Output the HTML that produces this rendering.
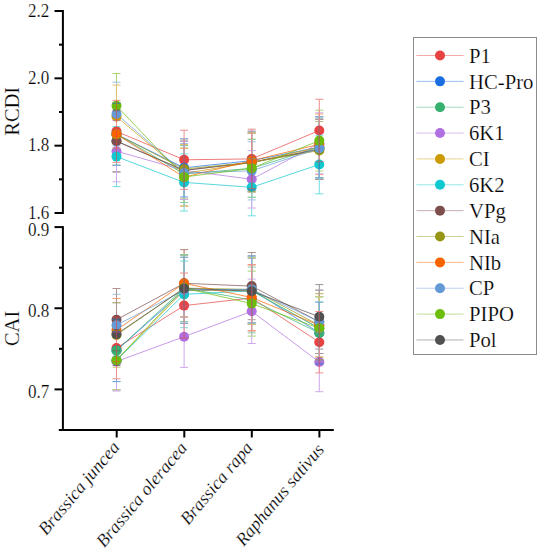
<!DOCTYPE html><html><head><meta charset="utf-8"><style>html,body{margin:0;padding:0;background:#fff;width:542px;height:550px;overflow:hidden}svg{display:block}text{font-family:"Liberation Serif",serif;fill:#000;stroke:#fff;stroke-width:0.2px}</style></head><body>
<svg width="542" height="550" viewBox="0 0 542 550">
<rect width="542" height="550" fill="#fff"/>
<g stroke="#000" stroke-width="2" fill="none">
<line x1="62.9" y1="10" x2="62.9" y2="214.00200000000004"/>
<line x1="54.5" y1="11.00" x2="62.9" y2="11.00"/>
<line x1="54.5" y1="78.33" x2="62.9" y2="78.33"/>
<line x1="54.5" y1="145.67" x2="62.9" y2="145.67"/>
<line x1="54.5" y1="213.00" x2="62.9" y2="213.00"/>
<line x1="59" y1="44.67" x2="62.9" y2="44.67"/>
<line x1="59" y1="112.00" x2="62.9" y2="112.00"/>
<line x1="59" y1="179.34" x2="62.9" y2="179.34"/>
<line x1="62.9" y1="226.1" x2="62.9" y2="429.975"/>
<line x1="54.5" y1="227.10" x2="62.9" y2="227.10"/>
<line x1="54.5" y1="308.25" x2="62.9" y2="308.25"/>
<line x1="54.5" y1="389.40" x2="62.9" y2="389.40"/>
<line x1="59" y1="267.68" x2="62.9" y2="267.68"/>
<line x1="59" y1="348.83" x2="62.9" y2="348.83"/>
<line x1="58.8" y1="429.98" x2="333.8" y2="429.98"/>
<line x1="116.7" y1="429.98" x2="116.7" y2="437.5"/>
<line x1="184.3" y1="429.98" x2="184.3" y2="437.5"/>
<line x1="251.8" y1="429.98" x2="251.8" y2="437.5"/>
<line x1="319.4" y1="429.98" x2="319.4" y2="437.5"/>
</g>
<g font-size="18" text-anchor="end">
<text transform="translate(49.3,16.50) scale(0.95,1)">2.2</text>
<text transform="translate(49.3,83.83) scale(0.95,1)">2.0</text>
<text transform="translate(49.3,151.17) scale(0.95,1)">1.8</text>
<text transform="translate(49.3,218.50) scale(0.95,1)">1.6</text>
<text transform="translate(49.3,235.60) scale(0.95,1)">0.9</text>
<text transform="translate(49.3,316.75) scale(0.95,1)">0.8</text>
<text transform="translate(49.3,397.90) scale(0.95,1)">0.7</text>
</g>
<text font-size="20.5" text-anchor="middle" transform="translate(19,111.3) rotate(-90)">RCDI</text>
<text font-size="20.5" text-anchor="middle" transform="translate(19,328.4) rotate(-90)">CAI</text>
<g font-size="18" font-style="italic" text-anchor="end">
<text transform="translate(120.5,447.5) rotate(-50)">Brassica juncea</text>
<text transform="translate(188,448.3) rotate(-50)">Brassica oleracea</text>
<text transform="translate(253.5,448) rotate(-50)">Brassica rapa</text>
<text transform="translate(325,450) rotate(-50)">Raphanus sativus</text>
</g>
<polyline points="116.5,141.0 184.1,170.4 251.7,162.4 319.3,149" fill="none" stroke="#505050" stroke-width="1" stroke-opacity="0.7"/>
<polyline points="116.5,131.4 184.1,159.8 251.7,158.9 319.3,130.5" fill="none" stroke="#E84343" stroke-width="1" stroke-opacity="0.7"/>
<polyline points="116.5,134.3 184.1,167.8 251.7,160.6 319.3,147.2" fill="none" stroke="#1A6EE0" stroke-width="1" stroke-opacity="0.7"/>
<polyline points="116.5,134.3 184.1,174 251.7,168.3 319.3,147.2" fill="none" stroke="#35B06E" stroke-width="1" stroke-opacity="0.7"/>
<polyline points="116.5,151.2 184.1,170.4 251.7,179.3 319.3,143.3" fill="none" stroke="#B070E0" stroke-width="1" stroke-opacity="0.7"/>
<polyline points="116.5,116.6 184.1,173.5 251.7,162.4 319.3,147.2" fill="none" stroke="#CC9A05" stroke-width="1" stroke-opacity="0.7"/>
<polyline points="116.5,156.6 184.1,182.4 251.7,187.3 319.3,164.5" fill="none" stroke="#10C8CF" stroke-width="1" stroke-opacity="0.7"/>
<polyline points="116.5,141.3 184.1,170.4 251.7,162.4 319.3,149.5" fill="none" stroke="#7D4E4E" stroke-width="1" stroke-opacity="0.7"/>
<polyline points="116.5,134.3 184.1,169 251.7,162.4 319.3,150.5" fill="none" stroke="#959615" stroke-width="1" stroke-opacity="0.7"/>
<polyline points="116.5,134.3 184.1,177.2 251.7,160.6 319.3,144.3" fill="none" stroke="#FA6400" stroke-width="1" stroke-opacity="0.7"/>
<polyline points="116.5,114.0 184.1,173 251.7,170.8 319.3,148.3" fill="none" stroke="#6399D5" stroke-width="1" stroke-opacity="0.7"/>
<polyline points="116.5,105.8 184.1,177 251.7,168.3 319.3,140.6" fill="none" stroke="#6CBC0C" stroke-width="1" stroke-opacity="0.7"/>
<circle cx="116.5" cy="141.0" r="5" fill="#505050"/>
<circle cx="184.1" cy="170.4" r="5" fill="#505050"/>
<circle cx="251.7" cy="162.4" r="5" fill="#505050"/>
<circle cx="319.3" cy="149" r="5" fill="#505050"/>
<circle cx="116.5" cy="131.4" r="5" fill="#E84343"/>
<circle cx="184.1" cy="159.8" r="5" fill="#E84343"/>
<circle cx="251.7" cy="158.9" r="5" fill="#E84343"/>
<circle cx="319.3" cy="130.5" r="5" fill="#E84343"/>
<circle cx="116.5" cy="134.3" r="5" fill="#1A6EE0"/>
<circle cx="184.1" cy="167.8" r="5" fill="#1A6EE0"/>
<circle cx="251.7" cy="160.6" r="5" fill="#1A6EE0"/>
<circle cx="319.3" cy="147.2" r="5" fill="#1A6EE0"/>
<circle cx="116.5" cy="134.3" r="5" fill="#35B06E"/>
<circle cx="184.1" cy="174" r="5" fill="#35B06E"/>
<circle cx="251.7" cy="168.3" r="5" fill="#35B06E"/>
<circle cx="319.3" cy="147.2" r="5" fill="#35B06E"/>
<circle cx="116.5" cy="151.2" r="5" fill="#B070E0"/>
<circle cx="184.1" cy="170.4" r="5" fill="#B070E0"/>
<circle cx="251.7" cy="179.3" r="5" fill="#B070E0"/>
<circle cx="319.3" cy="143.3" r="5" fill="#B070E0"/>
<circle cx="116.5" cy="116.6" r="5" fill="#CC9A05"/>
<circle cx="184.1" cy="173.5" r="5" fill="#CC9A05"/>
<circle cx="251.7" cy="162.4" r="5" fill="#CC9A05"/>
<circle cx="319.3" cy="147.2" r="5" fill="#CC9A05"/>
<circle cx="116.5" cy="156.6" r="5" fill="#10C8CF"/>
<circle cx="184.1" cy="182.4" r="5" fill="#10C8CF"/>
<circle cx="251.7" cy="187.3" r="5" fill="#10C8CF"/>
<circle cx="319.3" cy="164.5" r="5" fill="#10C8CF"/>
<circle cx="116.5" cy="141.3" r="5" fill="#7D4E4E"/>
<circle cx="184.1" cy="170.4" r="5" fill="#7D4E4E"/>
<circle cx="251.7" cy="162.4" r="5" fill="#7D4E4E"/>
<circle cx="319.3" cy="149.5" r="5" fill="#7D4E4E"/>
<circle cx="116.5" cy="134.3" r="5" fill="#959615"/>
<circle cx="184.1" cy="169" r="5" fill="#959615"/>
<circle cx="251.7" cy="162.4" r="5" fill="#959615"/>
<circle cx="319.3" cy="150.5" r="5" fill="#959615"/>
<circle cx="116.5" cy="134.3" r="5" fill="#FA6400"/>
<circle cx="184.1" cy="177.2" r="5" fill="#FA6400"/>
<circle cx="251.7" cy="160.6" r="5" fill="#FA6400"/>
<circle cx="319.3" cy="144.3" r="5" fill="#FA6400"/>
<circle cx="116.5" cy="114.0" r="5" fill="#6399D5"/>
<circle cx="184.1" cy="173" r="5" fill="#6399D5"/>
<circle cx="251.7" cy="170.8" r="5" fill="#6399D5"/>
<circle cx="319.3" cy="148.3" r="5" fill="#6399D5"/>
<circle cx="116.5" cy="105.8" r="5" fill="#6CBC0C"/>
<circle cx="184.1" cy="177" r="5" fill="#6CBC0C"/>
<circle cx="251.7" cy="168.3" r="5" fill="#6CBC0C"/>
<circle cx="319.3" cy="140.6" r="5" fill="#6CBC0C"/>
<g opacity="0.6" fill="none">
<path d="M116.5 110.0V172.0M112.5 110.0H120.5M112.5 172.0H120.5" stroke="#505050" stroke-width="1"/>
<path d="M184.1 141.3V199.5M180.1 141.3H188.1M180.1 199.5H188.1" stroke="#505050" stroke-width="1"/>
<path d="M251.7 133.0V191.8M247.7 133.0H255.7M247.7 191.8H255.7" stroke="#505050" stroke-width="1"/>
<path d="M319.3 119V179M315.3 119H323.3M315.3 179H323.3" stroke="#505050" stroke-width="1"/>
<path d="M116.5 73.5V138.1M112.5 73.5H120.5M112.5 138.1H120.5" stroke="#6CBC0C" stroke-width="1"/>
<path d="M184.1 148V206M180.1 148H188.1M180.1 206H188.1" stroke="#6CBC0C" stroke-width="1"/>
<path d="M251.7 139.3V197.3M247.7 139.3H255.7M247.7 197.3H255.7" stroke="#6CBC0C" stroke-width="1"/>
<path d="M319.3 110.2V171.0M315.3 110.2H323.3M315.3 171.0H323.3" stroke="#6CBC0C" stroke-width="1"/>
<path d="M116.5 82.2V145.8M112.5 82.2H120.5M112.5 145.8H120.5" stroke="#6399D5" stroke-width="1"/>
<path d="M184.1 143.5V202.5M180.1 143.5H188.1M180.1 202.5H188.1" stroke="#6399D5" stroke-width="1"/>
<path d="M251.7 141.7V199.9M247.7 141.7H255.7M247.7 199.9H255.7" stroke="#6399D5" stroke-width="1"/>
<path d="M319.3 118.0V178.6M315.3 118.0H323.3M315.3 178.6H323.3" stroke="#6399D5" stroke-width="1"/>
<path d="M116.5 103.3V165.3M112.5 103.3H120.5M112.5 165.3H120.5" stroke="#FA6400" stroke-width="1"/>
<path d="M184.1 148.3V206.1M180.1 148.3H188.1M180.1 206.1H188.1" stroke="#FA6400" stroke-width="1"/>
<path d="M251.7 131.2V190.0M247.7 131.2H255.7M247.7 190.0H255.7" stroke="#FA6400" stroke-width="1"/>
<path d="M319.3 114.0V174.6M315.3 114.0H323.3M315.3 174.6H323.3" stroke="#FA6400" stroke-width="1"/>
<path d="M116.5 103.3V165.3M112.5 103.3H120.5M112.5 165.3H120.5" stroke="#959615" stroke-width="1"/>
<path d="M184.1 139.9V198.1M180.1 139.9H188.1M180.1 198.1H188.1" stroke="#959615" stroke-width="1"/>
<path d="M251.7 133.0V191.8M247.7 133.0H255.7M247.7 191.8H255.7" stroke="#959615" stroke-width="1"/>
<path d="M319.3 121.5V179.5M315.3 121.5H323.3M315.3 179.5H323.3" stroke="#959615" stroke-width="1"/>
<path d="M116.5 110.8V171.8M112.5 110.8H120.5M112.5 171.8H120.5" stroke="#7D4E4E" stroke-width="1"/>
<path d="M184.1 141.3V199.5M180.1 141.3H188.1M180.1 199.5H188.1" stroke="#7D4E4E" stroke-width="1"/>
<path d="M251.7 133.0V191.8M247.7 133.0H255.7M247.7 191.8H255.7" stroke="#7D4E4E" stroke-width="1"/>
<path d="M319.3 119.5V179.5M315.3 119.5H323.3M315.3 179.5H323.3" stroke="#7D4E4E" stroke-width="1"/>
<path d="M116.5 126.6V186.6M112.5 126.6H120.5M112.5 186.6H120.5" stroke="#10C8CF" stroke-width="1"/>
<path d="M184.1 153.8V211.0M180.1 153.8H188.1M180.1 211.0H188.1" stroke="#10C8CF" stroke-width="1"/>
<path d="M251.7 158.8V215.8M247.7 158.8H255.7M247.7 215.8H255.7" stroke="#10C8CF" stroke-width="1"/>
<path d="M319.3 135.2V193.8M315.3 135.2H323.3M315.3 193.8H323.3" stroke="#10C8CF" stroke-width="1"/>
<path d="M116.5 85.1V148.1M112.5 85.1H120.5M112.5 148.1H120.5" stroke="#CC9A05" stroke-width="1"/>
<path d="M184.1 144.5V202.5M180.1 144.5H188.1M180.1 202.5H188.1" stroke="#CC9A05" stroke-width="1"/>
<path d="M251.7 133.0V191.8M247.7 133.0H255.7M247.7 191.8H255.7" stroke="#CC9A05" stroke-width="1"/>
<path d="M319.3 116.8V177.6M315.3 116.8H323.3M315.3 177.6H323.3" stroke="#CC9A05" stroke-width="1"/>
<path d="M116.5 120.6V181.8M112.5 120.6H120.5M112.5 181.8H120.5" stroke="#B070E0" stroke-width="1"/>
<path d="M184.1 141.3V199.5M180.1 141.3H188.1M180.1 199.5H188.1" stroke="#B070E0" stroke-width="1"/>
<path d="M251.7 150.6V208.0M247.7 150.6H255.7M247.7 208.0H255.7" stroke="#B070E0" stroke-width="1"/>
<path d="M319.3 112.8V173.8M315.3 112.8H323.3M315.3 173.8H323.3" stroke="#B070E0" stroke-width="1"/>
<path d="M116.5 103.3V165.3M112.5 103.3H120.5M112.5 165.3H120.5" stroke="#35B06E" stroke-width="1"/>
<path d="M184.1 145.5V202.5M180.1 145.5H188.1M180.1 202.5H188.1" stroke="#35B06E" stroke-width="1"/>
<path d="M251.7 139.3V197.3M247.7 139.3H255.7M247.7 197.3H255.7" stroke="#35B06E" stroke-width="1"/>
<path d="M319.3 116.8V177.6M315.3 116.8H323.3M315.3 177.6H323.3" stroke="#35B06E" stroke-width="1"/>
<path d="M116.5 103.3V165.3M112.5 103.3H120.5M112.5 165.3H120.5" stroke="#1A6EE0" stroke-width="1"/>
<path d="M184.1 138.7V196.9M180.1 138.7H188.1M180.1 196.9H188.1" stroke="#1A6EE0" stroke-width="1"/>
<path d="M251.7 131.2V190.0M247.7 131.2H255.7M247.7 190.0H255.7" stroke="#1A6EE0" stroke-width="1"/>
<path d="M319.3 116.7V177.7M315.3 116.7H323.3M315.3 177.7H323.3" stroke="#1A6EE0" stroke-width="1"/>
<path d="M116.5 100.4V162.4M112.5 100.4H120.5M112.5 162.4H120.5" stroke="#E84343" stroke-width="1"/>
<path d="M184.1 130.2V189.4M180.1 130.2H188.1M180.1 189.4H188.1" stroke="#E84343" stroke-width="1"/>
<path d="M251.7 129.2V188.6M247.7 129.2H255.7M247.7 188.6H255.7" stroke="#E84343" stroke-width="1"/>
<path d="M319.3 99.3V161.7M315.3 99.3H323.3M315.3 161.7H323.3" stroke="#E84343" stroke-width="1"/>
</g>
<polyline points="116.5,348 184.1,305.6 251.7,298 319.3,342.2" fill="none" stroke="#E84343" stroke-width="1" stroke-opacity="0.7"/>
<polyline points="116.5,350.4 184.1,290.3 251.7,289.4 319.3,333" fill="none" stroke="#1A6EE0" stroke-width="1" stroke-opacity="0.7"/>
<polyline points="116.5,350.4 184.1,288.1 251.7,300 319.3,333" fill="none" stroke="#35B06E" stroke-width="1" stroke-opacity="0.7"/>
<polyline points="116.5,361.5 184.1,336.7 251.7,311.3 319.3,362" fill="none" stroke="#B070E0" stroke-width="1" stroke-opacity="0.7"/>
<polyline points="116.5,360.2 184.1,290.3 251.7,290.8 319.3,328.3" fill="none" stroke="#CC9A05" stroke-width="1" stroke-opacity="0.7"/>
<polyline points="116.5,360.2 184.1,294.4 251.7,290.8 319.3,328.3" fill="none" stroke="#10C8CF" stroke-width="1" stroke-opacity="0.7"/>
<polyline points="116.5,319.7 184.1,283.3 251.7,286.1 319.3,321.8" fill="none" stroke="#7D4E4E" stroke-width="1" stroke-opacity="0.7"/>
<polyline points="116.5,335 184.1,288.1 251.7,289.4 319.3,325.3" fill="none" stroke="#959615" stroke-width="1" stroke-opacity="0.7"/>
<polyline points="116.5,330 184.1,283.3 251.7,297.5 319.3,325.3" fill="none" stroke="#FA6400" stroke-width="1" stroke-opacity="0.7"/>
<polyline points="116.5,325.2 184.1,290.3 251.7,289.4 319.3,321.8" fill="none" stroke="#6399D5" stroke-width="1" stroke-opacity="0.7"/>
<polyline points="116.5,360.2 184.1,288.1 251.7,303.6 319.3,328.3" fill="none" stroke="#6CBC0C" stroke-width="1" stroke-opacity="0.7"/>
<polyline points="116.5,334.1 184.1,288.4 251.7,291.2 319.3,316.8" fill="none" stroke="#505050" stroke-width="1" stroke-opacity="0.7"/>
<circle cx="116.5" cy="348" r="5" fill="#E84343"/>
<circle cx="184.1" cy="305.6" r="5" fill="#E84343"/>
<circle cx="251.7" cy="298" r="5" fill="#E84343"/>
<circle cx="319.3" cy="342.2" r="5" fill="#E84343"/>
<circle cx="116.5" cy="350.4" r="5" fill="#1A6EE0"/>
<circle cx="184.1" cy="290.3" r="5" fill="#1A6EE0"/>
<circle cx="251.7" cy="289.4" r="5" fill="#1A6EE0"/>
<circle cx="319.3" cy="333" r="5" fill="#1A6EE0"/>
<circle cx="116.5" cy="350.4" r="5" fill="#35B06E"/>
<circle cx="184.1" cy="288.1" r="5" fill="#35B06E"/>
<circle cx="251.7" cy="300" r="5" fill="#35B06E"/>
<circle cx="319.3" cy="333" r="5" fill="#35B06E"/>
<circle cx="116.5" cy="361.5" r="5" fill="#B070E0"/>
<circle cx="184.1" cy="336.7" r="5" fill="#B070E0"/>
<circle cx="251.7" cy="311.3" r="5" fill="#B070E0"/>
<circle cx="319.3" cy="362" r="5" fill="#B070E0"/>
<circle cx="116.5" cy="360.2" r="5" fill="#CC9A05"/>
<circle cx="184.1" cy="290.3" r="5" fill="#CC9A05"/>
<circle cx="251.7" cy="290.8" r="5" fill="#CC9A05"/>
<circle cx="319.3" cy="328.3" r="5" fill="#CC9A05"/>
<circle cx="116.5" cy="360.2" r="5" fill="#10C8CF"/>
<circle cx="184.1" cy="294.4" r="5" fill="#10C8CF"/>
<circle cx="251.7" cy="290.8" r="5" fill="#10C8CF"/>
<circle cx="319.3" cy="328.3" r="5" fill="#10C8CF"/>
<circle cx="116.5" cy="319.7" r="5" fill="#7D4E4E"/>
<circle cx="184.1" cy="283.3" r="5" fill="#7D4E4E"/>
<circle cx="251.7" cy="286.1" r="5" fill="#7D4E4E"/>
<circle cx="319.3" cy="321.8" r="5" fill="#7D4E4E"/>
<circle cx="116.5" cy="335" r="5" fill="#959615"/>
<circle cx="184.1" cy="288.1" r="5" fill="#959615"/>
<circle cx="251.7" cy="289.4" r="5" fill="#959615"/>
<circle cx="319.3" cy="325.3" r="5" fill="#959615"/>
<circle cx="116.5" cy="330" r="5" fill="#FA6400"/>
<circle cx="184.1" cy="283.3" r="5" fill="#FA6400"/>
<circle cx="251.7" cy="297.5" r="5" fill="#FA6400"/>
<circle cx="319.3" cy="325.3" r="5" fill="#FA6400"/>
<circle cx="116.5" cy="325.2" r="5" fill="#6399D5"/>
<circle cx="184.1" cy="290.3" r="5" fill="#6399D5"/>
<circle cx="251.7" cy="289.4" r="5" fill="#6399D5"/>
<circle cx="319.3" cy="321.8" r="5" fill="#6399D5"/>
<circle cx="116.5" cy="360.2" r="5" fill="#6CBC0C"/>
<circle cx="184.1" cy="288.1" r="5" fill="#6CBC0C"/>
<circle cx="251.7" cy="303.6" r="5" fill="#6CBC0C"/>
<circle cx="319.3" cy="328.3" r="5" fill="#6CBC0C"/>
<circle cx="116.5" cy="334.1" r="5" fill="#505050"/>
<circle cx="184.1" cy="288.4" r="5" fill="#505050"/>
<circle cx="251.7" cy="291.2" r="5" fill="#505050"/>
<circle cx="319.3" cy="316.8" r="5" fill="#505050"/>
<g opacity="0.6" fill="none">
<path d="M116.5 302.7V365.5M112.5 302.7H120.5M112.5 365.5H120.5" stroke="#505050" stroke-width="1"/>
<path d="M184.1 255.2V321.6M180.1 255.2H188.1M180.1 321.6H188.1" stroke="#505050" stroke-width="1"/>
<path d="M251.7 258.2V324.2M247.7 258.2H255.7M247.7 324.2H255.7" stroke="#505050" stroke-width="1"/>
<path d="M319.3 284.6V349.0M315.3 284.6H323.3M315.3 349.0H323.3" stroke="#505050" stroke-width="1"/>
<path d="M116.5 330.5V389.9M112.5 330.5H120.5M112.5 389.9H120.5" stroke="#6CBC0C" stroke-width="1"/>
<path d="M184.1 254.7V321.5M180.1 254.7H188.1M180.1 321.5H188.1" stroke="#6CBC0C" stroke-width="1"/>
<path d="M251.7 271.1V336.1M247.7 271.1H255.7M247.7 336.1H255.7" stroke="#6CBC0C" stroke-width="1"/>
<path d="M319.3 296.8V359.8M315.3 296.8H323.3M315.3 359.8H323.3" stroke="#6CBC0C" stroke-width="1"/>
<path d="M116.5 294.3V356.1M112.5 294.3H120.5M112.5 356.1H120.5" stroke="#6399D5" stroke-width="1"/>
<path d="M184.1 257.3V323.3M180.1 257.3H188.1M180.1 323.3H188.1" stroke="#6399D5" stroke-width="1"/>
<path d="M251.7 255.9V322.9M247.7 255.9H255.7M247.7 322.9H255.7" stroke="#6399D5" stroke-width="1"/>
<path d="M319.3 290.1V353.5M315.3 290.1H323.3M315.3 353.5H323.3" stroke="#6399D5" stroke-width="1"/>
<path d="M116.5 298.5V361.5M112.5 298.5H120.5M112.5 361.5H120.5" stroke="#FA6400" stroke-width="1"/>
<path d="M184.1 249.6V317.0M180.1 249.6H188.1M180.1 317.0H188.1" stroke="#FA6400" stroke-width="1"/>
<path d="M251.7 264.5V330.5M247.7 264.5H255.7M247.7 330.5H255.7" stroke="#FA6400" stroke-width="1"/>
<path d="M319.3 293.6V357.0M315.3 293.6H323.3M315.3 357.0H323.3" stroke="#FA6400" stroke-width="1"/>
<path d="M116.5 302.8V367.2M112.5 302.8H120.5M112.5 367.2H120.5" stroke="#959615" stroke-width="1"/>
<path d="M184.1 254.7V321.5M180.1 254.7H188.1M180.1 321.5H188.1" stroke="#959615" stroke-width="1"/>
<path d="M251.7 255.9V322.9M247.7 255.9H255.7M247.7 322.9H255.7" stroke="#959615" stroke-width="1"/>
<path d="M319.3 293.6V357.0M315.3 293.6H323.3M315.3 357.0H323.3" stroke="#959615" stroke-width="1"/>
<path d="M116.5 288.5V350.9M112.5 288.5H120.5M112.5 350.9H120.5" stroke="#7D4E4E" stroke-width="1"/>
<path d="M184.1 249.6V317.0M180.1 249.6H188.1M180.1 317.0H188.1" stroke="#7D4E4E" stroke-width="1"/>
<path d="M251.7 252.5V319.7M247.7 252.5H255.7M247.7 319.7H255.7" stroke="#7D4E4E" stroke-width="1"/>
<path d="M319.3 290.1V353.5M315.3 290.1H323.3M315.3 353.5H323.3" stroke="#7D4E4E" stroke-width="1"/>
<path d="M116.5 330.5V389.9M112.5 330.5H120.5M112.5 389.9H120.5" stroke="#10C8CF" stroke-width="1"/>
<path d="M184.1 261.1V327.7M180.1 261.1H188.1M180.1 327.7H188.1" stroke="#10C8CF" stroke-width="1"/>
<path d="M251.7 257.2V324.4M247.7 257.2H255.7M247.7 324.4H255.7" stroke="#10C8CF" stroke-width="1"/>
<path d="M319.3 296.8V359.8M315.3 296.8H323.3M315.3 359.8H323.3" stroke="#10C8CF" stroke-width="1"/>
<path d="M116.5 330.5V389.9M112.5 330.5H120.5M112.5 389.9H120.5" stroke="#CC9A05" stroke-width="1"/>
<path d="M184.1 257.3V323.3M180.1 257.3H188.1M180.1 323.3H188.1" stroke="#CC9A05" stroke-width="1"/>
<path d="M251.7 257.2V324.4M247.7 257.2H255.7M247.7 324.4H255.7" stroke="#CC9A05" stroke-width="1"/>
<path d="M319.3 296.8V359.8M315.3 296.8H323.3M315.3 359.8H323.3" stroke="#CC9A05" stroke-width="1"/>
<path d="M116.5 332.0V391.0M112.5 332.0H120.5M112.5 391.0H120.5" stroke="#B070E0" stroke-width="1"/>
<path d="M184.1 306.0V367.4M180.1 306.0H188.1M180.1 367.4H188.1" stroke="#B070E0" stroke-width="1"/>
<path d="M251.7 279.1V343.5M247.7 279.1H255.7M247.7 343.5H255.7" stroke="#B070E0" stroke-width="1"/>
<path d="M319.3 332.3V391.7M315.3 332.3H323.3M315.3 391.7H323.3" stroke="#B070E0" stroke-width="1"/>
<path d="M116.5 319.2V381.6M112.5 319.2H120.5M112.5 381.6H120.5" stroke="#35B06E" stroke-width="1"/>
<path d="M184.1 254.7V321.5M180.1 254.7H188.1M180.1 321.5H188.1" stroke="#35B06E" stroke-width="1"/>
<path d="M251.7 267.1V332.9M247.7 267.1H255.7M247.7 332.9H255.7" stroke="#35B06E" stroke-width="1"/>
<path d="M319.3 302.1V363.9M315.3 302.1H323.3M315.3 363.9H323.3" stroke="#35B06E" stroke-width="1"/>
<path d="M116.5 319.2V381.6M112.5 319.2H120.5M112.5 381.6H120.5" stroke="#1A6EE0" stroke-width="1"/>
<path d="M184.1 257.3V323.3M180.1 257.3H188.1M180.1 323.3H188.1" stroke="#1A6EE0" stroke-width="1"/>
<path d="M251.7 255.9V322.9M247.7 255.9H255.7M247.7 322.9H255.7" stroke="#1A6EE0" stroke-width="1"/>
<path d="M319.3 302.1V363.9M315.3 302.1H323.3M315.3 363.9H323.3" stroke="#1A6EE0" stroke-width="1"/>
<path d="M116.5 317.2V378.8M112.5 317.2H120.5M112.5 378.8H120.5" stroke="#E84343" stroke-width="1"/>
<path d="M184.1 273.0V338.2M180.1 273.0H188.1M180.1 338.2H188.1" stroke="#E84343" stroke-width="1"/>
<path d="M251.7 265V331M247.7 265H255.7M247.7 331H255.7" stroke="#E84343" stroke-width="1"/>
<path d="M319.3 311.5V372.9M315.3 311.5H323.3M315.3 372.9H323.3" stroke="#E84343" stroke-width="1"/>
</g>
<rect x="413.5" y="37.5" width="123" height="317" fill="#fff" stroke="#8c8c8c" stroke-width="1"/>
<line x1="416.4" y1="55.50" x2="463.6" y2="55.50" stroke="#E84343" stroke-width="1" stroke-opacity="0.45"/>
<circle cx="440" cy="55.50" r="5" fill="#E84343"/>
<text x="469" y="62.70" font-size="20.7">P1</text>
<line x1="416.4" y1="81.36" x2="463.6" y2="81.36" stroke="#1A6EE0" stroke-width="1" stroke-opacity="0.45"/>
<circle cx="440" cy="81.36" r="5" fill="#1A6EE0"/>
<text x="469" y="88.56" font-size="20.7">HC-Pro</text>
<line x1="416.4" y1="107.22" x2="463.6" y2="107.22" stroke="#35B06E" stroke-width="1" stroke-opacity="0.45"/>
<circle cx="440" cy="107.22" r="5" fill="#35B06E"/>
<text x="469" y="114.42" font-size="20.7">P3</text>
<line x1="416.4" y1="133.08" x2="463.6" y2="133.08" stroke="#B070E0" stroke-width="1" stroke-opacity="0.45"/>
<circle cx="440" cy="133.08" r="5" fill="#B070E0"/>
<text x="469" y="140.28" font-size="20.7">6K1</text>
<line x1="416.4" y1="158.94" x2="463.6" y2="158.94" stroke="#CC9A05" stroke-width="1" stroke-opacity="0.45"/>
<circle cx="440" cy="158.94" r="5" fill="#CC9A05"/>
<text x="469" y="166.14" font-size="20.7">CI</text>
<line x1="416.4" y1="184.80" x2="463.6" y2="184.80" stroke="#10C8CF" stroke-width="1" stroke-opacity="0.45"/>
<circle cx="440" cy="184.80" r="5" fill="#10C8CF"/>
<text x="469" y="192.00" font-size="20.7">6K2</text>
<line x1="416.4" y1="210.66" x2="463.6" y2="210.66" stroke="#7D4E4E" stroke-width="1" stroke-opacity="0.45"/>
<circle cx="440" cy="210.66" r="5" fill="#7D4E4E"/>
<text x="469" y="217.86" font-size="20.7">VPg</text>
<line x1="416.4" y1="236.52" x2="463.6" y2="236.52" stroke="#959615" stroke-width="1" stroke-opacity="0.45"/>
<circle cx="440" cy="236.52" r="5" fill="#959615"/>
<text x="469" y="243.72" font-size="20.7">NIa</text>
<line x1="416.4" y1="262.38" x2="463.6" y2="262.38" stroke="#FA6400" stroke-width="1" stroke-opacity="0.45"/>
<circle cx="440" cy="262.38" r="5" fill="#FA6400"/>
<text x="469" y="269.58" font-size="20.7">NIb</text>
<line x1="416.4" y1="288.24" x2="463.6" y2="288.24" stroke="#6399D5" stroke-width="1" stroke-opacity="0.45"/>
<circle cx="440" cy="288.24" r="5" fill="#6399D5"/>
<text x="469" y="295.44" font-size="20.7">CP</text>
<line x1="416.4" y1="314.10" x2="463.6" y2="314.10" stroke="#6CBC0C" stroke-width="1" stroke-opacity="0.45"/>
<circle cx="440" cy="314.10" r="5" fill="#6CBC0C"/>
<text x="469" y="321.30" font-size="20.7">PIPO</text>
<line x1="416.4" y1="339.96" x2="463.6" y2="339.96" stroke="#505050" stroke-width="1" stroke-opacity="0.45"/>
<circle cx="440" cy="339.96" r="5" fill="#505050"/>
<text x="469" y="347.16" font-size="20.7">Pol</text>
</svg></body></html>
